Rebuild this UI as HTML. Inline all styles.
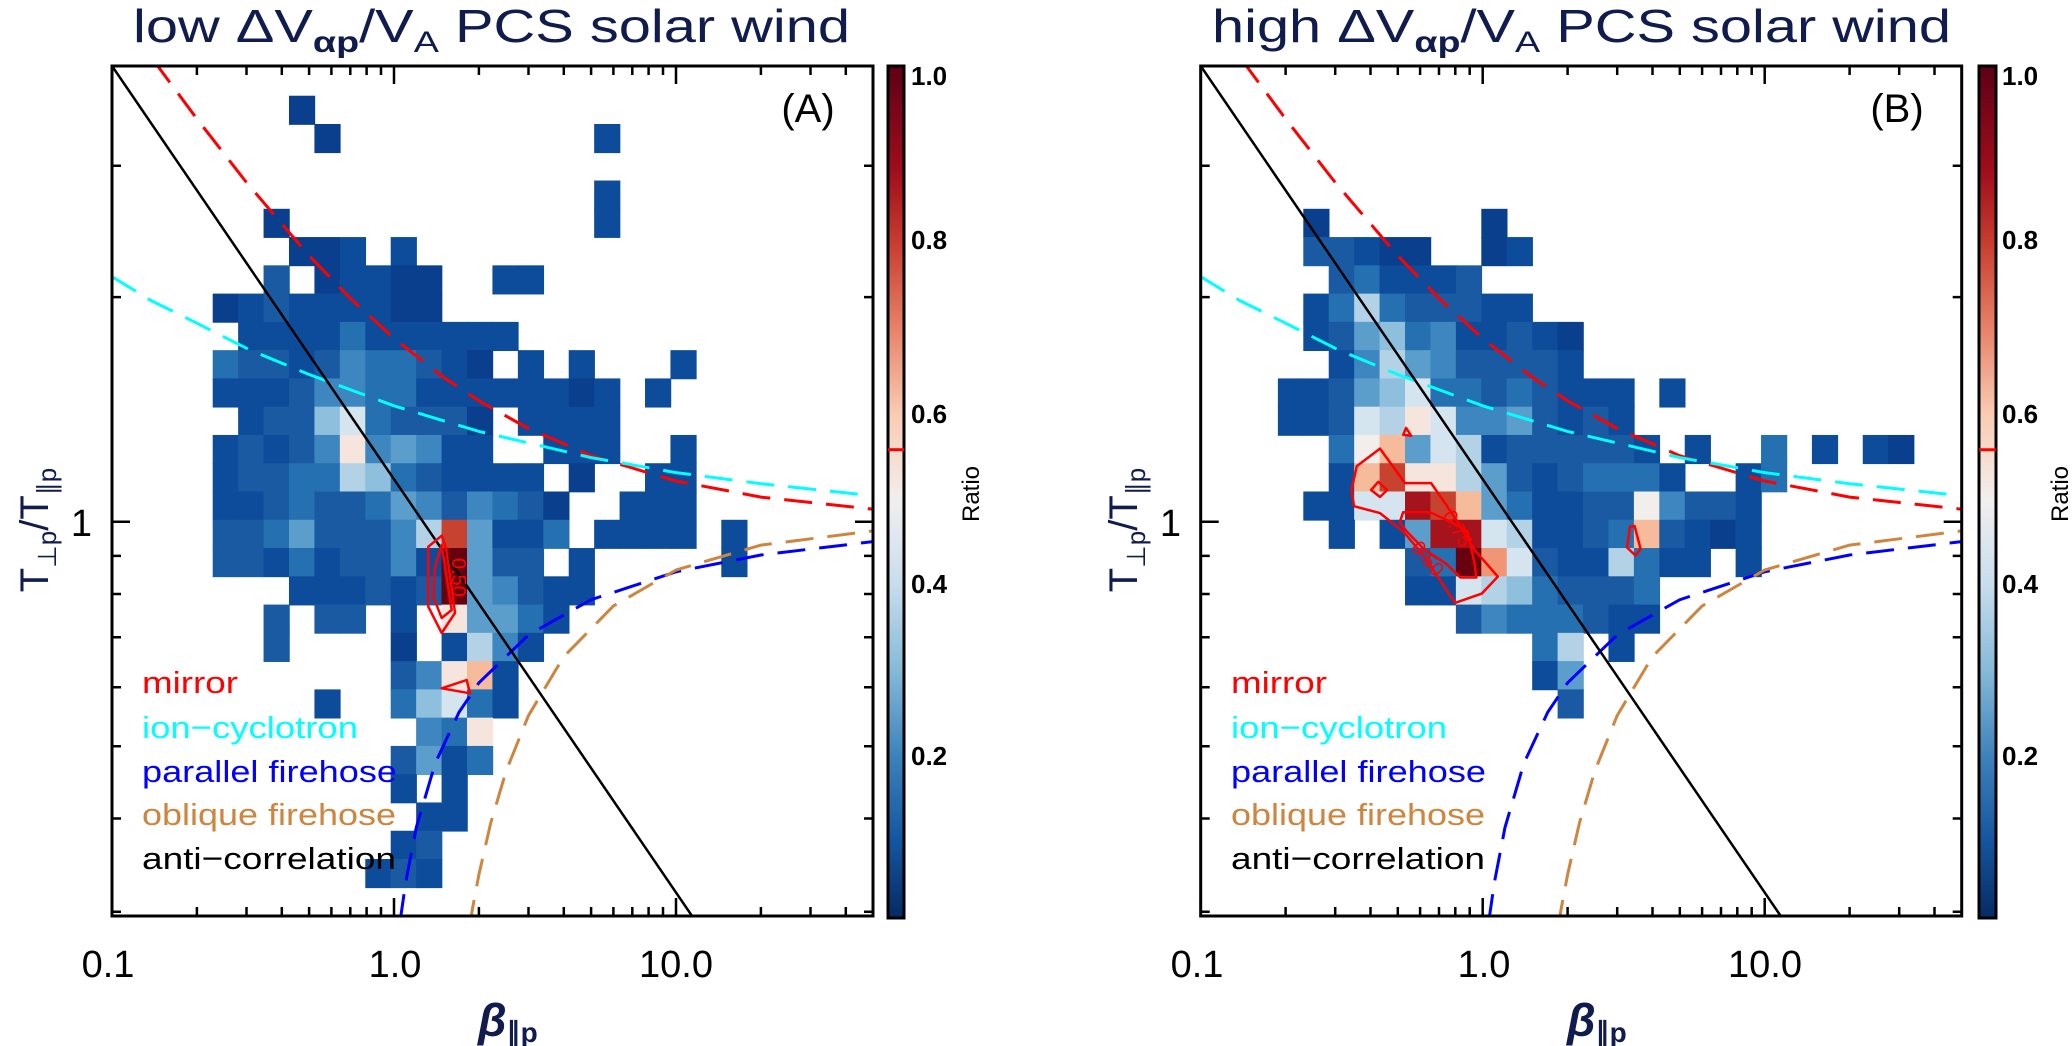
<!DOCTYPE html>
<html><head><meta charset="utf-8">
<style>
html,body{margin:0;padding:0;background:#fff;}
svg{display:block;font-family:"Liberation Sans",sans-serif;}
.c1{fill:#093f8c}.c2{fill:#0d4c9b}.c3{fill:#1a5aa3}.c4{fill:#2470b0}.c5{fill:#3d86bf}.c6{fill:#5b9ecb}.c7{fill:#8ebfdc}.c8{fill:#b3d2e6}.c9{fill:#d5e5f0}
.cP{fill:#f5e5dc}.cW{fill:#f1eeec}.cQ{fill:#f6bb9a}.cQ2{fill:#f19675}.cR{fill:#c8432f}.cS{fill:#a5141d}.cK{fill:#67000f}
</style></head>
<body>
<svg width="2072" height="1046" viewBox="0 0 2072 1046" xmlns="http://www.w3.org/2000/svg">
<defs>
<linearGradient id="cb" x1="0" y1="0" x2="0" y2="1">
<stop offset="0" stop-color="#5e0015"/>
<stop offset="0.122" stop-color="#9e0d1c"/>
<stop offset="0.204" stop-color="#c63a2e"/>
<stop offset="0.310" stop-color="#e8836a"/>
<stop offset="0.408" stop-color="#f9cbb2"/>
<stop offset="0.509" stop-color="#f2efee"/>
<stop offset="0.608" stop-color="#c8dded"/>
<stop offset="0.709" stop-color="#86bad8"/>
<stop offset="0.810" stop-color="#3c82bb"/>
<stop offset="0.908" stop-color="#1556a0"/>
<stop offset="1" stop-color="#072a63"/>
</linearGradient>
<clipPath id="cp"><rect x="112" y="66" width="761" height="850"/></clipPath>
<g id="curves">
<g clip-path="url(#cp)" fill="none" stroke-width="3" stroke-dasharray="28 14">
<polyline stroke="#ff0000" points="153.2,59.8 161.6,71.3 196.9,118.8 246.6,182.6 309.1,255.7 350.3,298.3 394,338.4 443.6,377.4 478.9,400.8 528.5,428.6 591.1,455.7 676,481 760.9,497.1 873.1,509.2"/>
<polyline stroke="#00ffff" points="112,276.6 150,300 196.9,323.2 250,350 309.1,374.5 394,405.8 478.9,431.4 591.1,457.6 676,472.6 760.9,483.7 873,495.8"/>
<polyline stroke="#0000ff" points="400,921.9 405.7,882.4 416.3,827.4 435.2,763.3 459,712.3 478.9,682.8 528.5,634.9 591.1,599.7 676,571.8 760.9,555 873,541.6"/>
<polyline stroke="#cd853f" points="469.4,927.6 472.6,908 478.9,874.6 490.6,823.5 506.2,770.8 528.5,715.5 563.8,656.6 613.4,606 676,570 760.9,545.1 873,530.9"/>
<line x1="95" y1="41" x2="720" y2="957" stroke="#000" stroke-width="2.5" stroke-dasharray="none"/>
</g>
<rect x="112" y="66" width="761" height="850" fill="none" stroke="#000" stroke-width="3"/>
<path fill="none" stroke="#000" stroke-width="2.5" d="
M112 916v-18M394 916v-18M676 916v-18
M196.9 916v-9M246.5 916v-9M281.8 916v-9M309.1 916v-9M331.4 916v-9M350.3 916v-9M366.6 916v-9M381 916v-9
M478.9 916v-9M528.5 916v-9M563.8 916v-9M591.1 916v-9M613.4 916v-9M632.3 916v-9M648.6 916v-9M663 916v-9
M760.9 916v-9M810.5 916v-9M845.8 916v-9
M112 66v18M394 66v18M676 66v18
M196.9 66v9M246.5 66v9M281.8 66v9M309.1 66v9M331.4 66v9M350.3 66v9M366.6 66v9M381 66v9
M478.9 66v9M528.5 66v9M563.8 66v9M591.1 66v9M613.4 66v9M632.3 66v9M648.6 66v9M663 66v9
M760.9 66v9M810.5 66v9M845.8 66v9
M112 521.7h18M112 911.8h9M112 818.5h9M112 746.3h9M112 687.2h9M112 637.3h9M112 594h9M112 555.9h9M112 297.1h9M112 165.8h9
M873 521.7h-18M873 911.8h-9M873 818.5h-9M873 746.3h-9M873 687.2h-9M873 637.3h-9M873 594h-9M873 555.9h-9M873 297.1h-9M873 165.8h-9"/>
</g>
</defs>

<!-- Titles -->
<text x="133" y="42" textLength="717" lengthAdjust="spacingAndGlyphs" font-size="46" fill="#101c4d">low ΔV<tspan font-size="30" dy="10" font-weight="bold">αp</tspan><tspan dy="-10">/V</tspan><tspan font-size="30" dy="10">A</tspan><tspan dy="-10"> PCS solar wind</tspan></text>
<text x="1212" y="42" textLength="739" lengthAdjust="spacingAndGlyphs" font-size="46" fill="#101c4d">high ΔV<tspan font-size="30" dy="10" font-weight="bold">αp</tspan><tspan dy="-10">/V</tspan><tspan font-size="30" dy="10">A</tspan><tspan dy="-10"> PCS solar wind</tspan></text>

<!-- Heatmap A -->
<g transform="translate(212.7,208.8) scale(25.43,28.27)">
<rect x="3" y="-4" width="1.03" height="1.03" class="c1"/>
<rect x="4" y="-3" width="1.03" height="1.03" class="c1"/><rect x="15" y="-3" width="1.03" height="1.03" class="c2"/>
<rect x="15" y="-1" width="1.03" height="1.03" class="c2"/>
<rect x="2" y="0" width="1.03" height="1.03" class="c1"/><rect x="15" y="0" width="1.03" height="1.03" class="c2"/>
<rect x="3" y="1" width="1.03" height="1.03" class="c1"/><rect x="4" y="1" width="1.03" height="1.03" class="c1"/><rect x="5" y="1" width="1.03" height="1.03" class="c2"/><rect x="7" y="1" width="1.03" height="1.03" class="c2"/>
<rect x="2" y="2" width="1.03" height="1.03" class="c3"/><rect x="4" y="2" width="1.03" height="1.03" class="c1"/><rect x="5" y="2" width="1.03" height="1.03" class="c2"/><rect x="6" y="2" width="1.03" height="1.03" class="c2"/><rect x="7" y="2" width="1.03" height="1.03" class="c1"/><rect x="8" y="2" width="1.03" height="1.03" class="c1"/><rect x="11" y="2" width="1.03" height="1.03" class="c2"/><rect x="12" y="2" width="1.03" height="1.03" class="c2"/>
<rect x="0" y="3" width="1.03" height="1.03" class="c1"/><rect x="1" y="3" width="1.03" height="1.03" class="c2"/><rect x="2" y="3" width="1.03" height="1.03" class="c3"/><rect x="3" y="3" width="1.03" height="1.03" class="c2"/><rect x="4" y="3" width="1.03" height="1.03" class="c2"/><rect x="5" y="3" width="1.03" height="1.03" class="c2"/><rect x="6" y="3" width="1.03" height="1.03" class="c2"/><rect x="7" y="3" width="1.03" height="1.03" class="c1"/><rect x="8" y="3" width="1.03" height="1.03" class="c1"/>
<rect x="1" y="4" width="1.03" height="1.03" class="c2"/><rect x="2" y="4" width="1.03" height="1.03" class="c2"/><rect x="3" y="4" width="1.03" height="1.03" class="c2"/><rect x="4" y="4" width="1.03" height="1.03" class="c2"/><rect x="5" y="4" width="1.03" height="1.03" class="c4"/><rect x="6" y="4" width="1.03" height="1.03" class="c2"/><rect x="7" y="4" width="1.03" height="1.03" class="c2"/><rect x="8" y="4" width="1.03" height="1.03" class="c2"/><rect x="9" y="4" width="1.03" height="1.03" class="c2"/><rect x="10" y="4" width="1.03" height="1.03" class="c2"/><rect x="11" y="4" width="1.03" height="1.03" class="c2"/>
<rect x="0" y="5" width="1.03" height="1.03" class="c4"/><rect x="1" y="5" width="1.03" height="1.03" class="c3"/><rect x="2" y="5" width="1.03" height="1.03" class="c3"/><rect x="3" y="5" width="1.03" height="1.03" class="c2"/><rect x="4" y="5" width="1.03" height="1.03" class="c3"/><rect x="5" y="5" width="1.03" height="1.03" class="c5"/><rect x="6" y="5" width="1.03" height="1.03" class="c4"/><rect x="7" y="5" width="1.03" height="1.03" class="c4"/><rect x="8" y="5" width="1.03" height="1.03" class="c3"/><rect x="9" y="5" width="1.03" height="1.03" class="c2"/><rect x="10" y="5" width="1.03" height="1.03" class="c1"/><rect x="12" y="5" width="1.03" height="1.03" class="c2"/><rect x="14" y="5" width="1.03" height="1.03" class="c2"/><rect x="18" y="5" width="1.03" height="1.03" class="c2"/>
<rect x="0" y="6" width="1.03" height="1.03" class="c2"/><rect x="1" y="6" width="1.03" height="1.03" class="c2"/><rect x="2" y="6" width="1.03" height="1.03" class="c2"/><rect x="3" y="6" width="1.03" height="1.03" class="c3"/><rect x="4" y="6" width="1.03" height="1.03" class="c5"/><rect x="5" y="6" width="1.03" height="1.03" class="c5"/><rect x="6" y="6" width="1.03" height="1.03" class="c4"/><rect x="7" y="6" width="1.03" height="1.03" class="c4"/><rect x="8" y="6" width="1.03" height="1.03" class="c2"/><rect x="9" y="6" width="1.03" height="1.03" class="c2"/><rect x="10" y="6" width="1.03" height="1.03" class="c2"/><rect x="11" y="6" width="1.03" height="1.03" class="c2"/><rect x="12" y="6" width="1.03" height="1.03" class="c2"/><rect x="13" y="6" width="1.03" height="1.03" class="c2"/><rect x="14" y="6" width="1.03" height="1.03" class="c1"/><rect x="15" y="6" width="1.03" height="1.03" class="c2"/><rect x="17" y="6" width="1.03" height="1.03" class="c2"/>
<rect x="1" y="7" width="1.03" height="1.03" class="c2"/><rect x="2" y="7" width="1.03" height="1.03" class="c3"/><rect x="3" y="7" width="1.03" height="1.03" class="c3"/><rect x="4" y="7" width="1.03" height="1.03" class="c7"/><rect x="5" y="7" width="1.03" height="1.03" class="c9"/><rect x="6" y="7" width="1.03" height="1.03" class="c4"/><rect x="7" y="7" width="1.03" height="1.03" class="c3"/><rect x="8" y="7" width="1.03" height="1.03" class="c3"/><rect x="9" y="7" width="1.03" height="1.03" class="c3"/><rect x="10" y="7" width="1.03" height="1.03" class="c1"/><rect x="12" y="7" width="1.03" height="1.03" class="c2"/><rect x="13" y="7" width="1.03" height="1.03" class="c2"/><rect x="14" y="7" width="1.03" height="1.03" class="c2"/><rect x="15" y="7" width="1.03" height="1.03" class="c2"/>
<rect x="0" y="8" width="1.03" height="1.03" class="c2"/><rect x="1" y="8" width="1.03" height="1.03" class="c3"/><rect x="2" y="8" width="1.03" height="1.03" class="c2"/><rect x="3" y="8" width="1.03" height="1.03" class="c3"/><rect x="4" y="8" width="1.03" height="1.03" class="c5"/><rect x="5" y="8" width="1.03" height="1.03" class="cP"/><rect x="6" y="8" width="1.03" height="1.03" class="c5"/><rect x="7" y="8" width="1.03" height="1.03" class="c6"/><rect x="8" y="8" width="1.03" height="1.03" class="c5"/><rect x="9" y="8" width="1.03" height="1.03" class="c2"/><rect x="10" y="8" width="1.03" height="1.03" class="c2"/><rect x="13" y="8" width="1.03" height="1.03" class="c2"/><rect x="14" y="8" width="1.03" height="1.03" class="c2"/><rect x="15" y="8" width="1.03" height="1.03" class="c2"/><rect x="18" y="8" width="1.03" height="1.03" class="c2"/>
<rect x="0" y="9" width="1.03" height="1.03" class="c2"/><rect x="1" y="9" width="1.03" height="1.03" class="c3"/><rect x="2" y="9" width="1.03" height="1.03" class="c3"/><rect x="3" y="9" width="1.03" height="1.03" class="c4"/><rect x="4" y="9" width="1.03" height="1.03" class="c4"/><rect x="5" y="9" width="1.03" height="1.03" class="c8"/><rect x="6" y="9" width="1.03" height="1.03" class="c7"/><rect x="7" y="9" width="1.03" height="1.03" class="c4"/><rect x="8" y="9" width="1.03" height="1.03" class="c3"/><rect x="9" y="9" width="1.03" height="1.03" class="c2"/><rect x="10" y="9" width="1.03" height="1.03" class="c2"/><rect x="11" y="9" width="1.03" height="1.03" class="c2"/><rect x="12" y="9" width="1.03" height="1.03" class="c2"/><rect x="14" y="9" width="1.03" height="1.03" class="c1"/><rect x="17" y="9" width="1.03" height="1.03" class="c2"/><rect x="18" y="9" width="1.03" height="1.03" class="c2"/>
<rect x="0" y="10" width="1.03" height="1.03" class="c2"/><rect x="1" y="10" width="1.03" height="1.03" class="c2"/><rect x="2" y="10" width="1.03" height="1.03" class="c3"/><rect x="3" y="10" width="1.03" height="1.03" class="c4"/><rect x="4" y="10" width="1.03" height="1.03" class="c3"/><rect x="5" y="10" width="1.03" height="1.03" class="c3"/><rect x="6" y="10" width="1.03" height="1.03" class="c4"/><rect x="7" y="10" width="1.03" height="1.03" class="c6"/><rect x="8" y="10" width="1.03" height="1.03" class="c5"/><rect x="9" y="10" width="1.03" height="1.03" class="c3"/><rect x="10" y="10" width="1.03" height="1.03" class="c5"/><rect x="11" y="10" width="1.03" height="1.03" class="c4"/><rect x="12" y="10" width="1.03" height="1.03" class="c3"/><rect x="13" y="10" width="1.03" height="1.03" class="c1"/><rect x="16" y="10" width="1.03" height="1.03" class="c2"/><rect x="17" y="10" width="1.03" height="1.03" class="c2"/><rect x="18" y="10" width="1.03" height="1.03" class="c2"/>
<rect x="0" y="11" width="1.03" height="1.03" class="c3"/><rect x="1" y="11" width="1.03" height="1.03" class="c3"/><rect x="2" y="11" width="1.03" height="1.03" class="c4"/><rect x="3" y="11" width="1.03" height="1.03" class="c6"/><rect x="4" y="11" width="1.03" height="1.03" class="c3"/><rect x="5" y="11" width="1.03" height="1.03" class="c3"/><rect x="6" y="11" width="1.03" height="1.03" class="c3"/><rect x="7" y="11" width="1.03" height="1.03" class="c5"/><rect x="8" y="11" width="1.03" height="1.03" class="c8"/><rect x="9" y="11" width="1.03" height="1.03" class="cR"/><rect x="10" y="11" width="1.03" height="1.03" class="c6"/><rect x="11" y="11" width="1.03" height="1.03" class="c2"/><rect x="12" y="11" width="1.03" height="1.03" class="c2"/><rect x="13" y="11" width="1.03" height="1.03" class="c4"/><rect x="15" y="11" width="1.03" height="1.03" class="c2"/><rect x="16" y="11" width="1.03" height="1.03" class="c2"/><rect x="17" y="11" width="1.03" height="1.03" class="c2"/><rect x="18" y="11" width="1.03" height="1.03" class="c2"/><rect x="20" y="11" width="1.03" height="1.03" class="c2"/>
<rect x="0" y="12" width="1.03" height="1.03" class="c3"/><rect x="1" y="12" width="1.03" height="1.03" class="c3"/><rect x="2" y="12" width="1.03" height="1.03" class="c2"/><rect x="3" y="12" width="1.03" height="1.03" class="c4"/><rect x="4" y="12" width="1.03" height="1.03" class="c2"/><rect x="5" y="12" width="1.03" height="1.03" class="c3"/><rect x="6" y="12" width="1.03" height="1.03" class="c3"/><rect x="7" y="12" width="1.03" height="1.03" class="c5"/><rect x="8" y="12" width="1.03" height="1.03" class="c2"/><rect x="9" y="12" width="1.03" height="1.03" class="cK"/><rect x="10" y="12" width="1.03" height="1.03" class="c6"/><rect x="11" y="12" width="1.03" height="1.03" class="c3"/><rect x="12" y="12" width="1.03" height="1.03" class="c3"/><rect x="14" y="12" width="1.03" height="1.03" class="c2"/><rect x="20" y="12" width="1.03" height="1.03" class="c2"/>
<rect x="3" y="13" width="1.03" height="1.03" class="c2"/><rect x="4" y="13" width="1.03" height="1.03" class="c2"/><rect x="5" y="13" width="1.03" height="1.03" class="c2"/><rect x="6" y="13" width="1.03" height="1.03" class="c3"/><rect x="7" y="13" width="1.03" height="1.03" class="c2"/><rect x="8" y="13" width="1.03" height="1.03" class="c3"/><rect x="9" y="13" width="1.03" height="1.03" class="cK"/><rect x="10" y="13" width="1.03" height="1.03" class="c6"/><rect x="11" y="13" width="1.03" height="1.03" class="c5"/><rect x="12" y="13" width="1.03" height="1.03" class="c3"/><rect x="13" y="13" width="1.03" height="1.03" class="c2"/><rect x="14" y="13" width="1.03" height="1.03" class="c2"/>
<rect x="2" y="14" width="1.03" height="1.03" class="c3"/><rect x="4" y="14" width="1.03" height="1.03" class="c3"/><rect x="5" y="14" width="1.03" height="1.03" class="c3"/><rect x="7" y="14" width="1.03" height="1.03" class="c2"/><rect x="9" y="14" width="1.03" height="1.03" class="cP"/><rect x="10" y="14" width="1.03" height="1.03" class="c6"/><rect x="11" y="14" width="1.03" height="1.03" class="c6"/><rect x="12" y="14" width="1.03" height="1.03" class="c4"/><rect x="13" y="14" width="1.03" height="1.03" class="c2"/>
<rect x="2" y="15" width="1.03" height="1.03" class="c3"/><rect x="7" y="15" width="1.03" height="1.03" class="c1"/><rect x="9" y="15" width="1.03" height="1.03" class="c2"/><rect x="10" y="15" width="1.03" height="1.03" class="c8"/><rect x="11" y="15" width="1.03" height="1.03" class="c5"/><rect x="12" y="15" width="1.03" height="1.03" class="c2"/>
<rect x="7" y="16" width="1.03" height="1.03" class="c3"/><rect x="8" y="16" width="1.03" height="1.03" class="c5"/><rect x="9" y="16" width="1.03" height="1.03" class="cP"/><rect x="10" y="16" width="1.03" height="1.03" class="cQ"/><rect x="11" y="16" width="1.03" height="1.03" class="c2"/>
<rect x="4" y="17" width="1.03" height="1.03" class="c2"/><rect x="7" y="17" width="1.03" height="1.03" class="c4"/><rect x="8" y="17" width="1.03" height="1.03" class="c7"/><rect x="9" y="17" width="1.03" height="1.03" class="c9"/><rect x="10" y="17" width="1.03" height="1.03" class="c4"/><rect x="11" y="17" width="1.03" height="1.03" class="c2"/>
<rect x="8" y="18" width="1.03" height="1.03" class="c5"/><rect x="9" y="18" width="1.03" height="1.03" class="c4"/><rect x="10" y="18" width="1.03" height="1.03" class="cP"/>
<rect x="7" y="19" width="1.03" height="1.03" class="c3"/><rect x="8" y="19" width="1.03" height="1.03" class="c6"/><rect x="9" y="19" width="1.03" height="1.03" class="c2"/><rect x="10" y="19" width="1.03" height="1.03" class="c4"/>
<rect x="7" y="20" width="1.03" height="1.03" class="c2"/><rect x="9" y="20" width="1.03" height="1.03" class="c2"/>
<rect x="8" y="21" width="1.03" height="1.03" class="c2"/><rect x="9" y="21" width="1.03" height="1.03" class="c2"/>
<rect x="7" y="22" width="1.03" height="1.03" class="c2"/><rect x="8" y="22" width="1.03" height="1.03" class="c3"/>
<rect x="6" y="23" width="1.03" height="1.03" class="c2"/><rect x="7" y="23" width="1.03" height="1.03" class="c3"/><rect x="8" y="23" width="1.03" height="1.03" class="c2"/>
</g>

<!-- Heatmap B -->
<g transform="translate(1303.3,208.8) scale(25.43,28.27)">
<rect x="0" y="0" width="1.03" height="1.03" class="c1"/><rect x="7" y="0" width="1.03" height="1.03" class="c1"/>
<rect x="0" y="1" width="1.03" height="1.03" class="c3"/><rect x="1" y="1" width="1.03" height="1.03" class="c3"/><rect x="2" y="1" width="1.03" height="1.03" class="c2"/><rect x="3" y="1" width="1.03" height="1.03" class="c1"/><rect x="4" y="1" width="1.03" height="1.03" class="c1"/><rect x="7" y="1" width="1.03" height="1.03" class="c1"/><rect x="8" y="1" width="1.03" height="1.03" class="c2"/>
<rect x="1" y="2" width="1.03" height="1.03" class="c3"/><rect x="2" y="2" width="1.03" height="1.03" class="c4"/><rect x="3" y="2" width="1.03" height="1.03" class="c2"/><rect x="4" y="2" width="1.03" height="1.03" class="c2"/><rect x="5" y="2" width="1.03" height="1.03" class="c2"/><rect x="6" y="2" width="1.03" height="1.03" class="c3"/>
<rect x="0" y="3" width="1.03" height="1.03" class="c2"/><rect x="1" y="3" width="1.03" height="1.03" class="c4"/><rect x="2" y="3" width="1.03" height="1.03" class="c8"/><rect x="3" y="3" width="1.03" height="1.03" class="c4"/><rect x="4" y="3" width="1.03" height="1.03" class="c3"/><rect x="5" y="3" width="1.03" height="1.03" class="c3"/><rect x="6" y="3" width="1.03" height="1.03" class="c3"/><rect x="7" y="3" width="1.03" height="1.03" class="c2"/><rect x="8" y="3" width="1.03" height="1.03" class="c2"/>
<rect x="0" y="4" width="1.03" height="1.03" class="c2"/><rect x="1" y="4" width="1.03" height="1.03" class="c3"/><rect x="2" y="4" width="1.03" height="1.03" class="c6"/><rect x="3" y="4" width="1.03" height="1.03" class="c7"/><rect x="4" y="4" width="1.03" height="1.03" class="c4"/><rect x="5" y="4" width="1.03" height="1.03" class="c5"/><rect x="6" y="4" width="1.03" height="1.03" class="c2"/><rect x="7" y="4" width="1.03" height="1.03" class="c2"/><rect x="8" y="4" width="1.03" height="1.03" class="c3"/><rect x="9" y="4" width="1.03" height="1.03" class="c2"/><rect x="10" y="4" width="1.03" height="1.03" class="c1"/>
<rect x="1" y="5" width="1.03" height="1.03" class="c2"/><rect x="2" y="5" width="1.03" height="1.03" class="c5"/><rect x="3" y="5" width="1.03" height="1.03" class="c8"/><rect x="4" y="5" width="1.03" height="1.03" class="c6"/><rect x="5" y="5" width="1.03" height="1.03" class="c5"/><rect x="6" y="5" width="1.03" height="1.03" class="c3"/><rect x="7" y="5" width="1.03" height="1.03" class="c3"/><rect x="8" y="5" width="1.03" height="1.03" class="c3"/><rect x="9" y="5" width="1.03" height="1.03" class="c3"/><rect x="10" y="5" width="1.03" height="1.03" class="c2"/>
<rect x="-1" y="6" width="1.03" height="1.03" class="c2"/><rect x="0" y="6" width="1.03" height="1.03" class="c2"/><rect x="1" y="6" width="1.03" height="1.03" class="c3"/><rect x="2" y="6" width="1.03" height="1.03" class="c6"/><rect x="3" y="6" width="1.03" height="1.03" class="c7"/><rect x="4" y="6" width="1.03" height="1.03" class="c9"/><rect x="5" y="6" width="1.03" height="1.03" class="c4"/><rect x="6" y="6" width="1.03" height="1.03" class="c4"/><rect x="7" y="6" width="1.03" height="1.03" class="c3"/><rect x="8" y="6" width="1.03" height="1.03" class="c4"/><rect x="9" y="6" width="1.03" height="1.03" class="c3"/><rect x="10" y="6" width="1.03" height="1.03" class="c2"/><rect x="11" y="6" width="1.03" height="1.03" class="c2"/><rect x="12" y="6" width="1.03" height="1.03" class="c2"/><rect x="14" y="6" width="1.03" height="1.03" class="c2"/>
<rect x="-1" y="7" width="1.03" height="1.03" class="c2"/><rect x="0" y="7" width="1.03" height="1.03" class="c2"/><rect x="1" y="7" width="1.03" height="1.03" class="c3"/><rect x="2" y="7" width="1.03" height="1.03" class="c9"/><rect x="3" y="7" width="1.03" height="1.03" class="c8"/><rect x="4" y="7" width="1.03" height="1.03" class="cP"/><rect x="5" y="7" width="1.03" height="1.03" class="c9"/><rect x="6" y="7" width="1.03" height="1.03" class="c5"/><rect x="7" y="7" width="1.03" height="1.03" class="c5"/><rect x="8" y="7" width="1.03" height="1.03" class="c6"/><rect x="9" y="7" width="1.03" height="1.03" class="c3"/><rect x="10" y="7" width="1.03" height="1.03" class="c2"/><rect x="11" y="7" width="1.03" height="1.03" class="c3"/><rect x="12" y="7" width="1.03" height="1.03" class="c2"/>
<rect x="1" y="8" width="1.03" height="1.03" class="c4"/><rect x="2" y="8" width="1.03" height="1.03" class="cW"/><rect x="3" y="8" width="1.03" height="1.03" class="cQ"/><rect x="4" y="8" width="1.03" height="1.03" class="c6"/><rect x="5" y="8" width="1.03" height="1.03" class="c9"/><rect x="6" y="8" width="1.03" height="1.03" class="c8"/><rect x="7" y="8" width="1.03" height="1.03" class="c2"/><rect x="8" y="8" width="1.03" height="1.03" class="c3"/><rect x="9" y="8" width="1.03" height="1.03" class="c3"/><rect x="10" y="8" width="1.03" height="1.03" class="c3"/><rect x="11" y="8" width="1.03" height="1.03" class="c3"/><rect x="12" y="8" width="1.03" height="1.03" class="c3"/><rect x="13" y="8" width="1.03" height="1.03" class="c2"/><rect x="15" y="8" width="1.03" height="1.03" class="c2"/><rect x="18" y="8" width="1.03" height="1.03" class="c4"/><rect x="20" y="8" width="1.03" height="1.03" class="c2"/><rect x="22" y="8" width="1.03" height="1.03" class="c2"/><rect x="23" y="8" width="1.03" height="1.03" class="c1"/>
<rect x="1" y="9" width="1.03" height="1.03" class="c2"/><rect x="2" y="9" width="1.03" height="1.03" class="cQ"/><rect x="3" y="9" width="1.03" height="1.03" class="cR"/><rect x="4" y="9" width="1.03" height="1.03" class="cP"/><rect x="5" y="9" width="1.03" height="1.03" class="cP"/><rect x="6" y="9" width="1.03" height="1.03" class="c8"/><rect x="7" y="9" width="1.03" height="1.03" class="c6"/><rect x="8" y="9" width="1.03" height="1.03" class="c3"/><rect x="9" y="9" width="1.03" height="1.03" class="c2"/><rect x="10" y="9" width="1.03" height="1.03" class="c3"/><rect x="11" y="9" width="1.03" height="1.03" class="c4"/><rect x="12" y="9" width="1.03" height="1.03" class="c4"/><rect x="13" y="9" width="1.03" height="1.03" class="c4"/><rect x="14" y="9" width="1.03" height="1.03" class="c2"/><rect x="17" y="9" width="1.03" height="1.03" class="c2"/><rect x="18" y="9" width="1.03" height="1.03" class="c4"/>
<rect x="0" y="10" width="1.03" height="1.03" class="c2"/><rect x="1" y="10" width="1.03" height="1.03" class="c2"/><rect x="2" y="10" width="1.03" height="1.03" class="c9"/><rect x="3" y="10" width="1.03" height="1.03" class="c9"/><rect x="4" y="10" width="1.03" height="1.03" class="cS"/><rect x="5" y="10" width="1.03" height="1.03" class="cR"/><rect x="6" y="10" width="1.03" height="1.03" class="cQ"/><rect x="7" y="10" width="1.03" height="1.03" class="c6"/><rect x="8" y="10" width="1.03" height="1.03" class="c4"/><rect x="9" y="10" width="1.03" height="1.03" class="c2"/><rect x="10" y="10" width="1.03" height="1.03" class="c2"/><rect x="11" y="10" width="1.03" height="1.03" class="c3"/><rect x="12" y="10" width="1.03" height="1.03" class="c3"/><rect x="13" y="10" width="1.03" height="1.03" class="cW"/><rect x="14" y="10" width="1.03" height="1.03" class="c5"/><rect x="15" y="10" width="1.03" height="1.03" class="c3"/><rect x="16" y="10" width="1.03" height="1.03" class="c3"/><rect x="17" y="10" width="1.03" height="1.03" class="c2"/>
<rect x="1" y="11" width="1.03" height="1.03" class="c2"/><rect x="3" y="11" width="1.03" height="1.03" class="c2"/><rect x="4" y="11" width="1.03" height="1.03" class="c6"/><rect x="5" y="11" width="1.03" height="1.03" class="cS"/><rect x="6" y="11" width="1.03" height="1.03" class="cS"/><rect x="7" y="11" width="1.03" height="1.03" class="c9"/><rect x="8" y="11" width="1.03" height="1.03" class="c8"/><rect x="9" y="11" width="1.03" height="1.03" class="c2"/><rect x="10" y="11" width="1.03" height="1.03" class="c2"/><rect x="11" y="11" width="1.03" height="1.03" class="c3"/><rect x="12" y="11" width="1.03" height="1.03" class="c4"/><rect x="13" y="11" width="1.03" height="1.03" class="cQ"/><rect x="14" y="11" width="1.03" height="1.03" class="c3"/><rect x="15" y="11" width="1.03" height="1.03" class="c2"/><rect x="16" y="11" width="1.03" height="1.03" class="c1"/><rect x="17" y="11" width="1.03" height="1.03" class="c2"/>
<rect x="4" y="12" width="1.03" height="1.03" class="c3"/><rect x="5" y="12" width="1.03" height="1.03" class="c4"/><rect x="6" y="12" width="1.03" height="1.03" class="cK"/><rect x="7" y="12" width="1.03" height="1.03" class="cQ2"/><rect x="8" y="12" width="1.03" height="1.03" class="c9"/><rect x="9" y="12" width="1.03" height="1.03" class="c3"/><rect x="10" y="12" width="1.03" height="1.03" class="c2"/><rect x="11" y="12" width="1.03" height="1.03" class="c2"/><rect x="12" y="12" width="1.03" height="1.03" class="c8"/><rect x="13" y="12" width="1.03" height="1.03" class="c4"/><rect x="14" y="12" width="1.03" height="1.03" class="c2"/><rect x="15" y="12" width="1.03" height="1.03" class="c2"/><rect x="17" y="12" width="1.03" height="1.03" class="c2"/>
<rect x="4" y="13" width="1.03" height="1.03" class="c2"/><rect x="5" y="13" width="1.03" height="1.03" class="c2"/><rect x="6" y="13" width="1.03" height="1.03" class="c9"/><rect x="7" y="13" width="1.03" height="1.03" class="c8"/><rect x="8" y="13" width="1.03" height="1.03" class="c7"/><rect x="9" y="13" width="1.03" height="1.03" class="c4"/><rect x="10" y="13" width="1.03" height="1.03" class="c3"/><rect x="11" y="13" width="1.03" height="1.03" class="c3"/><rect x="12" y="13" width="1.03" height="1.03" class="c3"/><rect x="13" y="13" width="1.03" height="1.03" class="c4"/>
<rect x="6" y="14" width="1.03" height="1.03" class="c3"/><rect x="7" y="14" width="1.03" height="1.03" class="c5"/><rect x="8" y="14" width="1.03" height="1.03" class="c4"/><rect x="9" y="14" width="1.03" height="1.03" class="c4"/><rect x="10" y="14" width="1.03" height="1.03" class="c4"/><rect x="11" y="14" width="1.03" height="1.03" class="c3"/><rect x="12" y="14" width="1.03" height="1.03" class="c2"/><rect x="13" y="14" width="1.03" height="1.03" class="c2"/>
<rect x="9" y="15" width="1.03" height="1.03" class="c4"/><rect x="10" y="15" width="1.03" height="1.03" class="c8"/><rect x="12" y="15" width="1.03" height="1.03" class="c2"/>
<rect x="9" y="16" width="1.03" height="1.03" class="c2"/><rect x="10" y="16" width="1.03" height="1.03" class="c6"/>
<rect x="10" y="17" width="1.03" height="1.03" class="c3"/>
</g>

<!-- curves + axes -->
<use href="#curves"/>
<use href="#curves" transform="translate(1088.7,0)"/>

<!-- contours -->
<g fill="none" stroke="#ff0000" stroke-width="2.5" stroke-linejoin="round">
<polygon points="441.7,535.7 428.3,546.7 428.3,606.7 441.7,633 455,613 452,590 446,548"/>
<polygon points="441.7,545 435,566.7 433.3,596.7 441.7,618 451.7,610 447,580"/>
<polygon points="441.7,688.3 466.7,680 470,693.3"/>
<polygon points="1380,448.6 1405,483.1 1431.1,483.1 1455,517.7 1474.6,549.9 1497.8,576.6 1481.8,593.6 1455,602.9 1424.7,556.8 1403.2,531.5 1380,513.1 1354,506.2 1351.5,490 1356.8,466.1"/>
<polygon points="1403.2,512.2 1430,512.2 1451.4,522.3 1467.5,531.5 1474.6,563.7 1476.4,577.5 1460.4,577.5 1446.1,563.7 1424.7,549.9 1406.8,531.5 1399.7,522.3"/>
<polygon points="1403.2,434.8 1406.1,427.9 1411.1,435.7"/>
<polygon points="1371.1,490 1378.3,481.8 1387.2,490 1380,497"/>
<polygon points="1629.9,526.9 1634.6,526 1640.6,549 1635.3,555.4 1627.1,547.6"/>
</g>
<g font-size="20" fill="#ff0000">
<text transform="translate(452,558) rotate(90)">0.50</text>
<text transform="translate(1442,515) rotate(60)">0.75</text>
<text transform="translate(1410,548) rotate(50)">0.50</text>
</g>

<!-- Panel letters -->
<text x="808" y="122" text-anchor="middle" font-size="40">(A)</text>
<text x="1897" y="122" text-anchor="middle" font-size="40">(B)</text>

<!-- y labels -->
<g font-size="40" fill="#101c4d">
<text transform="translate(48,530) rotate(-90)" text-anchor="middle">T<tspan font-size="26" dy="8">⊥p</tspan><tspan dy="-8">/T</tspan><tspan font-size="26" dy="8">∥p</tspan></text>
<text transform="translate(1137,530) rotate(-90)" text-anchor="middle">T<tspan font-size="26" dy="8">⊥p</tspan><tspan dy="-8">/T</tspan><tspan font-size="26" dy="8">∥p</tspan></text>
</g>
<text x="92" y="536" text-anchor="end" font-size="38">1</text>
<text x="1181" y="536" text-anchor="end" font-size="38">1</text>

<!-- x tick labels -->
<g font-size="38" text-anchor="middle">
<text x="108" y="977">0.1</text><text x="395" y="977">1.0</text><text x="676" y="977">10.0</text>
<text x="1197" y="977">0.1</text><text x="1484" y="977">1.0</text><text x="1765" y="977">10.0</text>
</g>
<g fill="#101c4d">
<text x="478" y="1036" font-size="46" font-style="italic" font-weight="bold">β<tspan font-size="28" dy="6" font-style="normal">∥p</tspan></text>
<text x="1567" y="1036" font-size="46" font-style="italic" font-weight="bold">β<tspan font-size="28" dy="6" font-style="normal">∥p</tspan></text>
</g>

<!-- legends -->
<g font-size="31">
<text x="142" y="693" fill="#ff0000" textLength="96" lengthAdjust="spacingAndGlyphs">mirror</text>
<text x="142" y="738" fill="#00ffff" textLength="216" lengthAdjust="spacingAndGlyphs">ion−cyclotron</text>
<text x="142" y="782" fill="#0000ff" textLength="255" lengthAdjust="spacingAndGlyphs">parallel firehose</text>
<text x="142" y="825" fill="#cd853f" textLength="254" lengthAdjust="spacingAndGlyphs">oblique firehose</text>
<text x="142" y="869" fill="#000" textLength="254" lengthAdjust="spacingAndGlyphs">anti−correlation</text>
<text x="1231" y="693" fill="#ff0000" textLength="96" lengthAdjust="spacingAndGlyphs">mirror</text>
<text x="1231" y="738" fill="#00ffff" textLength="216" lengthAdjust="spacingAndGlyphs">ion−cyclotron</text>
<text x="1231" y="782" fill="#0000ff" textLength="255" lengthAdjust="spacingAndGlyphs">parallel firehose</text>
<text x="1231" y="825" fill="#cd853f" textLength="254" lengthAdjust="spacingAndGlyphs">oblique firehose</text>
<text x="1231" y="869" fill="#000" textLength="254" lengthAdjust="spacingAndGlyphs">anti−correlation</text>
</g>

<!-- colorbars -->
<rect x="888" y="66" width="16" height="852" fill="url(#cb)" stroke="#000" stroke-width="3"/>
<line x1="888" y1="449.7" x2="904" y2="449.7" stroke="#ff0000" stroke-width="3"/>
<rect x="1979" y="66" width="17" height="852" fill="url(#cb)" stroke="#000" stroke-width="3"/>
<line x1="1979" y1="449.7" x2="1996" y2="449.7" stroke="#ff0000" stroke-width="3"/>
<g font-size="26" font-weight="bold">
<text x="911" y="85">1.0</text><text x="911" y="249">0.8</text><text x="911" y="423">0.6</text><text x="911" y="593">0.4</text><text x="911" y="765">0.2</text>
<text x="2002" y="85">1.0</text><text x="2002" y="249">0.8</text><text x="2002" y="423">0.6</text><text x="2002" y="593">0.4</text><text x="2002" y="765">0.2</text>
</g>
<text transform="translate(979,494) rotate(-90)" text-anchor="middle" font-size="24">Ratio</text>
<text transform="translate(2068,494) rotate(-90)" text-anchor="middle" font-size="24">Ratio</text>
</svg>
</body></html>
